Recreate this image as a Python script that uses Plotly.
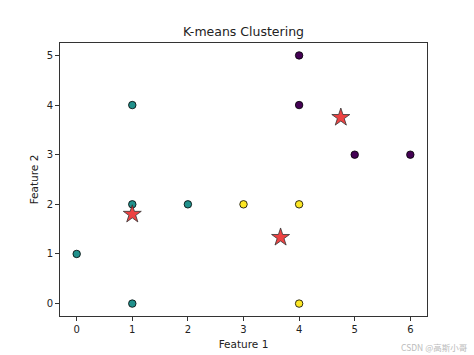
import plotly.graph_objects as go

# data
cluster0_x = [4, 4, 5, 6]
cluster0_y = [5, 4, 3, 3]
cluster1_x = [1, 1, 2, 0, 1]
cluster1_y = [4, 2, 2, 1, 0]
cluster2_x = [3, 4, 4]
cluster2_y = [2, 2, 0]
centers_x = [4.75, 1.0, 3.6667]
centers_y = [3.75, 1.8, 1.3333]
colors = ["#440154", "#21918c", "#fde725"]
x_ticks = [0, 1, 2, 3, 4, 5, 6]
y_ticks = [0, 1, 2, 3, 4, 5]

fig = go.Figure()
for xs, ys, c in [(cluster0_x, cluster0_y, colors[0]),
                  (cluster1_x, cluster1_y, colors[1]),
                  (cluster2_x, cluster2_y, colors[2])]:
    fig.add_trace(go.Scatter(x=xs, y=ys, mode="markers",
                             marker=dict(size=7.5, color=c, line=dict(color="black", width=0.8)),
                             showlegend=False))
fig.add_trace(go.Scatter(x=centers_x, y=centers_y, mode="markers",
                         marker=dict(symbol="star", size=13.5, color="rgba(235,45,45,0.9)",
                                     line=dict(color="#333", width=0.8)),
                         showlegend=False))

axis_common = dict(showgrid=False, zeroline=False, showline=True, linecolor="#333", linewidth=1,
                   mirror=True, ticks="outside", ticklen=4, tickcolor="#333", automargin=False,
                   tickfont=dict(size=10, color="#222"))
fig.update_layout(
    width=474, height=355,
    margin=dict(l=60, r=47, t=43, b=39),
    paper_bgcolor="white", plot_bgcolor="white",
    font=dict(family="DejaVu Sans", color="#222"),
    title=dict(text="K-means Clustering", x=0.5, xanchor="center", xref="paper",
               y=1 - 32/355, yanchor="middle", font=dict(size=12.5)),
    xaxis=dict(range=[-0.3, 6.3], tickvals=x_ticks,
               title=dict(text="Feature 1", font=dict(size=10.5), standoff=6), **axis_common),
    yaxis=dict(range=[-0.25, 5.25], tickvals=y_ticks,
               title=dict(text="Feature 2", font=dict(size=10.5), standoff=5), **axis_common),
)
fig.add_annotation(text="CSDN @高斯小哥", xref="paper", yref="paper", x=1 + 43/367, y=-31/273,
                   xanchor="right", yanchor="middle", showarrow=False,
                   font=dict(size=8.5, color="#bbb", family="Noto Sans CJK SC"))
fig.write_html("out.html")
